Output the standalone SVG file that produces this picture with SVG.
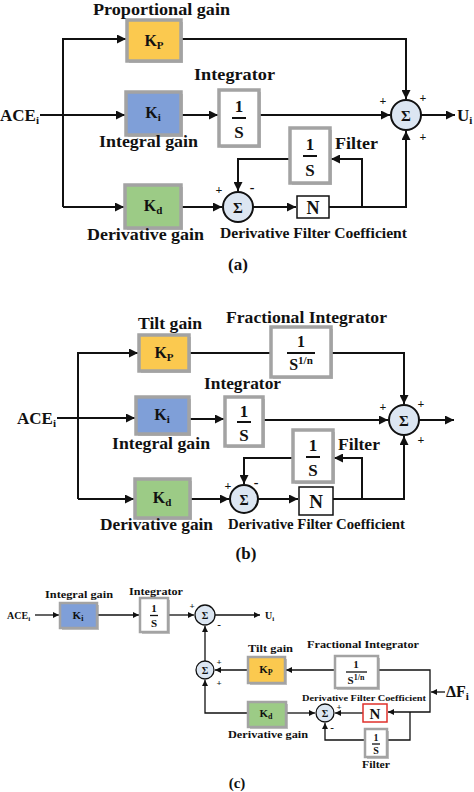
<svg xmlns="http://www.w3.org/2000/svg" width="474" height="792" viewBox="0 0 474 792">
<style>
text{font-family:"Liberation Serif","Times New Roman",serif;font-weight:bold;fill:#111}
.ln{fill:none;stroke:#111;stroke-width:2}
.lc{fill:none;stroke:#111;stroke-width:1.3}
.fr{stroke:#a3a3a3;stroke-width:3.5}
.frc{stroke:#a3a3a3;stroke-width:2.5}
.sh{fill:#7a7a7a;opacity:.45}
.yl{fill:#FBC94F}.bl{fill:#7F9FD8}.gr{fill:#9CCB86}.wh{fill:#fff}
.sg{fill:#DCE6F2;stroke:#111;stroke-width:2}
.sgc{fill:#DCE6F2;stroke:#111;stroke-width:1.3}
.nb{fill:#fff;stroke:#111;stroke-width:1.5}
.m{text-anchor:middle}
</style>
<defs>
<marker id="ah" viewBox="0 0 10 10" refX="10" refY="5" markerWidth="12" markerHeight="9" markerUnits="userSpaceOnUse" orient="auto"><path d="M0,0 L10,5 L0,10 z" fill="#111"/></marker>
<marker id="as" viewBox="0 0 10 10" refX="10" refY="5" markerWidth="8" markerHeight="6" markerUnits="userSpaceOnUse" orient="auto"><path d="M0,0 L10,5 L0,10 z" fill="#111"/></marker>
</defs>

<!-- ============ Panel (a) ============ -->
<g id="connectors-a">
<path class="ln" d="M63,207 V39 H126" marker-end="url(#ah)"/>
<path class="ln" d="M40,115 H125" marker-end="url(#ah)"/>
<path class="ln" d="M181,115 H218" marker-end="url(#ah)"/>
<path class="ln" d="M259,115 H390" marker-end="url(#ah)"/>
<path class="ln" d="M181,39 H406 V99" marker-end="url(#ah)"/>
<path class="ln" d="M421,115 H455" marker-end="url(#ah)"/>
<path class="ln" d="M63,207 H124" marker-end="url(#ah)"/>
<path class="ln" d="M181,207 H222" marker-end="url(#ah)"/>
<path class="ln" d="M253,207 H296" marker-end="url(#ah)"/>
<path class="ln" d="M329,207 H406 V131" marker-end="url(#ah)"/>
<path class="ln" d="M362,207 V159 H331" marker-end="url(#ah)"/>
<path class="ln" d="M290,159 H238 V191" marker-end="url(#ah)"/>
</g>
<g id="a-kp"><rect class="sh" x="129" y="22" width="54" height="41"/><rect class="yl fr" x="127" y="20" width="54" height="41"/><text class="m" x="154" y="46" font-size="16">K<tspan font-size="11" dy="3">P</tspan></text></g>
<g id="a-ki"><rect class="sh" x="128" y="94" width="55" height="43"/><rect class="bl fr" x="126" y="92" width="55" height="43"/><text class="m" x="153" y="118" font-size="16">K<tspan font-size="11" dy="3">i</tspan></text></g>
<g id="a-int"><rect class="sh" x="221" y="92" width="40" height="56"/><rect class="wh fr" x="219" y="90" width="40" height="56"/><text class="m" x="239" y="112" font-size="17">1</text><path class="ln" d="M232,118 H246"/><text class="m" x="239" y="138" font-size="17">S</text></g>
<g id="a-sum1"><circle class="sg" cx="406" cy="115" r="15"/><text class="m" x="406" y="121" font-size="15">Σ</text></g>
<g id="a-kd"><rect class="sh" x="127" y="187" width="56" height="43"/><rect class="gr fr" x="125" y="185" width="56" height="43"/><text class="m" x="153" y="211" font-size="16">K<tspan font-size="11" dy="3">d</tspan></text></g>
<g id="a-sum2"><circle class="sg" cx="238" cy="207" r="15"/><text class="m" x="238" y="213" font-size="15">Σ</text></g>
<g id="a-n"><rect class="nb" x="297" y="196" width="32" height="22"/><text class="m" x="313" y="214" font-size="18">N</text></g>
<g id="a-filter"><rect class="sh" x="292" y="130" width="40" height="55"/><rect class="wh fr" x="290" y="128" width="40" height="55"/><text class="m" x="310" y="150" font-size="17">1</text><path class="ln" d="M303,156 H317"/><text class="m" x="310" y="176" font-size="17">S</text></g>
<g id="a-labels">
<text x="93" y="15" font-size="16" textLength="137" lengthAdjust="spacingAndGlyphs">Proportional gain</text>
<text x="194" y="80" font-size="17" textLength="81" lengthAdjust="spacingAndGlyphs">Integrator</text>
<text x="99" y="147" font-size="17" textLength="99" lengthAdjust="spacingAndGlyphs">Integral gain</text>
<text x="335" y="149" font-size="17" textLength="43" lengthAdjust="spacingAndGlyphs">Filter</text>
<text x="87" y="240" font-size="17" textLength="117" lengthAdjust="spacingAndGlyphs">Derivative gain</text>
<text x="220" y="238" font-size="14" textLength="187" lengthAdjust="spacingAndGlyphs">Derivative Filter Coefficient</text>
<text x="0" y="121" font-size="17">ACE<tspan font-size="11" dy="3">i</tspan></text>
<text x="457" y="121" font-size="17">U<tspan font-size="11" dy="3">i</tspan></text>
<text class="m" x="383" y="105" font-size="12">+</text>
<text class="m" x="423" y="102" font-size="12">+</text>
<text class="m" x="423" y="141" font-size="12">+</text>
<text class="m" x="219" y="194" font-size="12">+</text>
<text class="m" x="252" y="192" font-size="14">-</text>
<text class="m" x="238" y="270" font-size="17">(a)</text>
</g>

<!-- ============ Panel (b) ============ -->
<g id="connectors-b">
<path class="ln" d="M78,499 V353 H138" marker-end="url(#ah)"/>
<path class="ln" d="M189,353 H271"/>
<path class="ln" d="M331,353 H404 V404" marker-end="url(#ah)"/>
<path class="ln" d="M57,418 H135" marker-end="url(#ah)"/>
<path class="ln" d="M189,419 H224" marker-end="url(#ah)"/>
<path class="ln" d="M263,420 H388" marker-end="url(#ah)"/>
<path class="ln" d="M419,420 H454" marker-end="url(#ah)"/>
<path class="ln" d="M78,499 H134" marker-end="url(#ah)"/>
<path class="ln" d="M190,499 H229" marker-end="url(#ah)"/>
<path class="ln" d="M258,499 H298" marker-end="url(#ah)"/>
<path class="ln" d="M333,499 H404 V436" marker-end="url(#ah)"/>
<path class="ln" d="M362,499 V458 H334" marker-end="url(#ah)"/>
<path class="ln" d="M293,458 H244 V484" marker-end="url(#ah)"/>
</g>
<g id="b-kp"><rect class="sh" x="141" y="337" width="50" height="36"/><rect class="yl fr" x="139" y="335" width="50" height="36"/><text class="m" x="164" y="358" font-size="16">K<tspan font-size="11" dy="3">P</tspan></text></g>
<g id="b-fi"><rect class="sh" x="273" y="329" width="60" height="50"/><rect class="wh fr" x="271" y="327" width="60" height="50"/><text class="m" x="301" y="347" font-size="16">1</text><path class="ln" d="M287,353 H315"/><text class="m" x="301" y="370" font-size="16">S<tspan font-size="11" dy="-6">1/n</tspan></text></g>
<g id="b-ki"><rect class="sh" x="138" y="399" width="53" height="37"/><rect class="bl fr" x="136" y="397" width="53" height="37"/><text class="m" x="162" y="420" font-size="16">K<tspan font-size="11" dy="3">i</tspan></text></g>
<g id="b-int"><rect class="sh" x="227" y="399" width="38" height="49"/><rect class="wh fr" x="225" y="397" width="38" height="49"/><text class="m" x="244" y="417" font-size="17">1</text><path class="ln" d="M237,422 H251"/><text class="m" x="244" y="441" font-size="17">S</text></g>
<g id="b-sum1"><circle class="sg" cx="404" cy="420" r="15"/><text class="m" x="404" y="426" font-size="15">Σ</text></g>
<g id="b-filter"><rect class="sh" x="295" y="432" width="40" height="52"/><rect class="wh fr" x="293" y="430" width="40" height="52"/><text class="m" x="313" y="451" font-size="17">1</text><path class="ln" d="M306,457 H320"/><text class="m" x="313" y="476" font-size="17">S</text></g>
<g id="b-kd"><rect class="sh" x="137" y="481" width="55" height="39"/><rect class="gr fr" x="135" y="479" width="55" height="39"/><text class="m" x="162" y="503" font-size="16">K<tspan font-size="11" dy="3">d</tspan></text></g>
<g id="b-sum2"><circle class="sg" cx="244" cy="499" r="14"/><text class="m" x="244" y="505" font-size="14">Σ</text></g>
<g id="b-n"><rect class="nb" x="299" y="487" width="34" height="28"/><text class="m" x="316" y="508" font-size="19">N</text></g>
<g id="b-labels">
<text x="138" y="329" font-size="17" textLength="64" lengthAdjust="spacingAndGlyphs">Tilt gain</text>
<text x="226" y="323" font-size="17" textLength="161" lengthAdjust="spacingAndGlyphs">Fractional Integrator</text>
<text x="204" y="389" font-size="17" textLength="77" lengthAdjust="spacingAndGlyphs">Integrator</text>
<text x="17" y="424" font-size="17">ACE<tspan font-size="11" dy="3">i</tspan></text>
<text x="112" y="449" font-size="17" textLength="98" lengthAdjust="spacingAndGlyphs">Integral gain</text>
<text x="338" y="450" font-size="17" textLength="42" lengthAdjust="spacingAndGlyphs">Filter</text>
<text x="100" y="530" font-size="17" textLength="113" lengthAdjust="spacingAndGlyphs">Derivative gain</text>
<text x="228" y="529" font-size="14" textLength="177" lengthAdjust="spacingAndGlyphs">Derivative Filter Coefficient</text>
<text class="m" x="383" y="411" font-size="12">+</text>
<text class="m" x="421" y="408" font-size="12">+</text>
<text class="m" x="421" y="444" font-size="12">+</text>
<text class="m" x="228" y="490" font-size="12">+</text>
<text class="m" x="256" y="487" font-size="14">-</text>
<text class="m" x="246" y="559" font-size="17">(b)</text>
</g>

<!-- ============ Panel (c) ============ -->
<g id="connectors-c">
<path class="lc" d="M35,615 H59" marker-end="url(#as)"/>
<path class="lc" d="M97,615 H139" marker-end="url(#as)"/>
<path class="lc" d="M168,615 H194" marker-end="url(#as)"/>
<path class="lc" d="M215,615 H260" marker-end="url(#as)"/>
<path class="lc" d="M205,661 V626" marker-end="url(#as)"/>
<path class="lc" d="M248,670 H215" marker-end="url(#as)"/>
<path class="lc" d="M335,670 H286" marker-end="url(#as)"/>
<path class="lc" d="M378,670 H430 V712 H388" marker-end="url(#as)"/>
<path class="lc" d="M445,692 H431" marker-end="url(#as)"/>
<path class="lc" d="M363,713 H335" marker-end="url(#as)"/>
<path class="lc" d="M410,712 V740 H387"/>
<path class="lc" d="M365,740 H325 V723" marker-end="url(#as)"/>
<path class="lc" d="M286,713 H315" marker-end="url(#as)"/>
<path class="lc" d="M248,713 H205 V680" marker-end="url(#as)"/>
</g>
<g id="c-ki"><rect class="sh" x="62" y="605" width="37" height="25"/><rect class="bl frc" x="60" y="603" width="37" height="25"/><text class="m" x="78" y="619" font-size="11">K<tspan font-size="8" dy="2">i</tspan></text></g>
<g id="c-int"><rect class="sh" x="142" y="600" width="28" height="34"/><rect class="wh frc" x="140" y="598" width="28" height="34"/><text class="m" x="154" y="612" font-size="11">1</text><path class="lc" d="M150,615.5 H158"/><text class="m" x="154" y="627" font-size="11">S</text></g>
<g id="c-sum1"><circle class="sgc" cx="205" cy="615" r="10"/><text class="m" x="205" y="619" font-size="10">Σ</text></g>
<g id="c-sum2"><circle class="sgc" cx="205" cy="670" r="9"/><text class="m" x="205" y="674" font-size="10">Σ</text></g>
<g id="c-kp"><rect class="sh" x="250" y="659" width="37" height="26"/><rect class="yl frc" x="248" y="657" width="37" height="26"/><text class="m" x="266" y="673" font-size="11">K<tspan font-size="8" dy="2">P</tspan></text></g>
<g id="c-fi"><rect class="sh" x="337" y="658" width="43" height="32"/><rect class="wh frc" x="335" y="656" width="43" height="32"/><text class="m" x="356" y="668" font-size="11">1</text><path class="lc" d="M346,672 H367"/><text class="m" x="356" y="684" font-size="11">S<tspan font-size="8" dy="-4">1/n</tspan></text></g>
<g id="c-kd"><rect class="sh" x="250" y="704" width="38" height="25"/><rect class="gr frc" x="248" y="702" width="38" height="25"/><text class="m" x="266" y="717" font-size="11">K<tspan font-size="8" dy="2">d</tspan></text></g>
<g id="c-sum3"><circle class="sgc" cx="325" cy="713" r="9"/><text class="m" x="325" y="717" font-size="10">Σ</text></g>
<g id="c-n"><rect fill="#fff" stroke="#E0302B" stroke-width="1.5" x="363" y="704" width="24" height="18"/><text class="m" x="375" y="719" font-size="15">N</text></g>
<g id="c-filter"><rect class="sh" x="367" y="731" width="22" height="28"/><rect class="wh frc" x="365" y="729" width="22" height="28"/><text class="m" x="376" y="741" font-size="10">1</text><path class="lc" d="M372,744 H380"/><text class="m" x="376" y="754" font-size="10">S</text></g>
<g id="c-labels">
<text x="45" y="598" font-size="11" textLength="68" lengthAdjust="spacingAndGlyphs">Integral gain</text>
<text x="129" y="595" font-size="11" textLength="54" lengthAdjust="spacingAndGlyphs">Integrator</text>
<text x="7" y="619" font-size="10">ACE<tspan font-size="7" dy="2">i</tspan></text>
<text x="265" y="619" font-size="10">U<tspan font-size="7" dy="2">i</tspan></text>
<text class="m" x="192" y="609" font-size="9">+</text>
<text class="m" x="219" y="628" font-size="11">-</text>
<text class="m" x="219" y="665" font-size="9">+</text>
<text class="m" x="219" y="686" font-size="9">+</text>
<text x="248" y="652" font-size="11" textLength="45" lengthAdjust="spacingAndGlyphs">Tilt gain</text>
<text x="307" y="648" font-size="11" textLength="112" lengthAdjust="spacingAndGlyphs">Fractional Integrator</text>
<text x="302" y="701" font-size="9" textLength="124" lengthAdjust="spacingAndGlyphs">Derivative Filter Coefficient</text>
<text x="228" y="738" font-size="11" textLength="80" lengthAdjust="spacingAndGlyphs">Derivative gain</text>
<text x="362" y="768" font-size="11" textLength="28" lengthAdjust="spacingAndGlyphs">Filter</text>
<text class="m" x="339" y="710" font-size="9">+</text>
<text class="m" x="332" y="731" font-size="11">-</text>
<text x="446" y="697" font-size="16">ΔF<tspan font-size="11" dy="3">i</tspan></text>
<text class="m" x="237" y="788" font-size="15">(c)</text>
</g>
</svg>
